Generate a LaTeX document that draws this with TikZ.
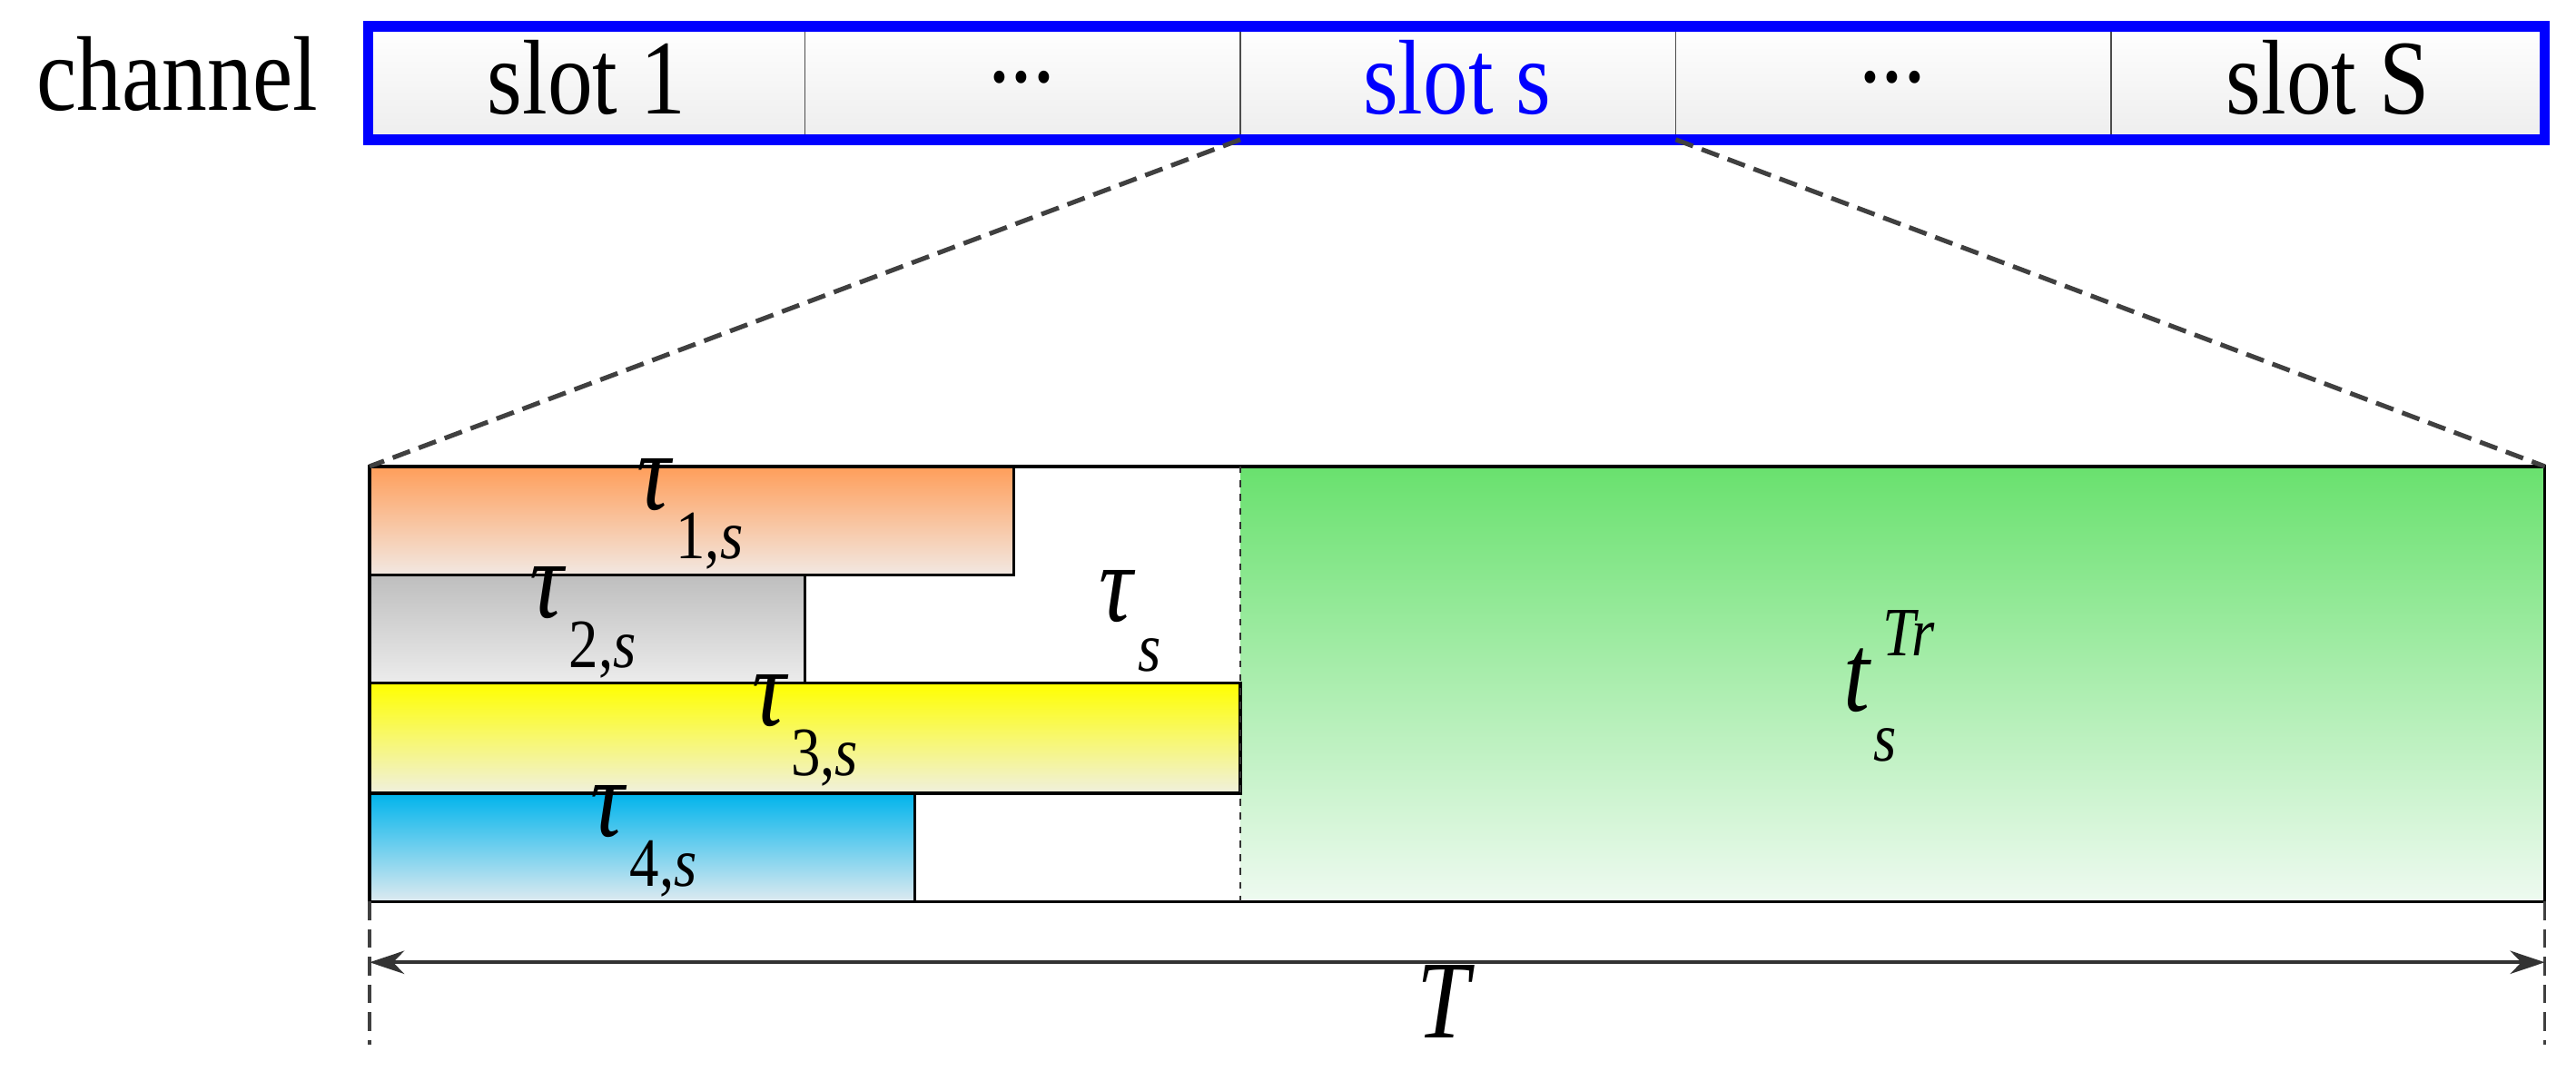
\documentclass[tikz,border=0pt]{standalone}
\usepackage{fontspec}
\setmainfont{Liberation Serif}[FakeStretch=0.85]
\usetikzlibrary{arrows.meta}
\definecolor{slotblue}{RGB}{0,0,255}
\newcommand{\tsub}[1]{\textit{τ}\kern1pt\raisebox{-0.45em}{\fontsize{30}{30}\selectfont #1}}
\tikzset{
  cell/.style={draw=black!70, line width=0.6pt, top color=white, bottom color=black!7},
  bar/.style={draw=black, line width=1.3pt},
  guide/.style={draw=black!75, line width=2pt, dash pattern=on 8pt off 4pt},
  big/.style={font=\fontsize{46}{48}\selectfont},
  taut/.style={font=\fontsize{48}{50}\selectfont},
}
\begin{document}
\begin{tikzpicture}[x=0.25mm,y=-0.25mm]
\useasboundingbox (0,0) rectangle (1568,652);
% slots
\foreach \i/\a/\b in {1/224/490,2/490/755,3/755/1020,4/1020/1285,5/1285/1549}
  \path[cell] (\a,16) rectangle (\b,85);
\node[big] (ch) at (108,45) {channel};
\node[big] (s1) at (357,47) {slot 1};
\node[big] (d1) at (622,47) {...};
\node[big,text=slotblue] (ss) at (887,47) {slot s};
\node[big] (d2) at (1152,47) {...};
\node[big] (sS) at (1417,47) {slot S};
\draw[slotblue,line width=4.5pt] (224,16) rectangle (1549,85);
\coordinate (sL) at (755,85);
\coordinate (sR) at (1020,85);
% lower bars
\shade[top color={rgb,255:red,105;green,225;blue,110}, bottom color={rgb,255:red,238;green,250;blue,240}] (755,284) rectangle (1549,549);
\path[bar, top color={rgb,255:red,255;green,158;blue,90}, bottom color={rgb,255:red,242;green,232;blue,226}] (225,284) rectangle (617,350);
\path[bar, top color={rgb,255:red,190;green,190;blue,190}, bottom color={rgb,255:red,236;green,236;blue,236}] (225,350) rectangle (490,416);
\path[bar, top color={rgb,255:red,255;green,255;blue,0}, bottom color={rgb,255:red,240;green,240;blue,222}] (225,416) rectangle (755,483);
\path[bar, top color={rgb,255:red,0;green,180;blue,236}, bottom color={rgb,255:red,222;green,234;blue,240}] (225,483) rectangle (557,549);
\draw[line width=1.3pt] (225,284) -- (1549,284) -- (1549,549) -- (225,549) -- cycle;
\draw[black!80, line width=0.8pt, dashed] (755,284) -- (755,549);
\coordinate (bL) at (225,284);
\coordinate (bR) at (1549,284);
\node[taut] (t1) at (420,313) {\tsub{1,\textit{s}}};
\node[taut] (t2) at (355,379) {\tsub{2,\textit{s}}};
\node[taut] (t3) at (490,445) {\tsub{3,\textit{s}}};
\node[taut] (t4) at (392,512) {\tsub{4,\textit{s}}};
\node[taut] (ts) at (688,378) {\tsub{\textit{s}}};
\node[taut] (ttr) at (1150,418) {\textit{t}\kern1pt\raisebox{-0.45em}{\fontsize{30}{30}\selectfont\textit{s}}\kern-6pt\raisebox{0.5em}{\fontsize{30}{30}\selectfont\textit{Tr}}};
% guides
\draw[guide] (sL) -- (bL);
\draw[guide] (sR) -- (bR);
\coordinate (vL1) at (225,549); \coordinate (vL2) at (225,636);
\coordinate (vR1) at (1549,549); \coordinate (vR2) at (1549,636);
\draw[guide,line width=1.4pt] (vL1) -- (vL2);
\draw[guide,line width=1.4pt] (vR1) -- (vR2);
\coordinate (aL) at (225,586); \coordinate (aR) at (1549,586);
\draw[black!80, line width=1.6pt, {Stealth[length=15pt,width=10pt]}-{Stealth[length=15pt,width=10pt]}] (aL) -- (aR);
\node[taut] (T) at (880,610) {\textit{T}};
\end{tikzpicture}
\end{document}
